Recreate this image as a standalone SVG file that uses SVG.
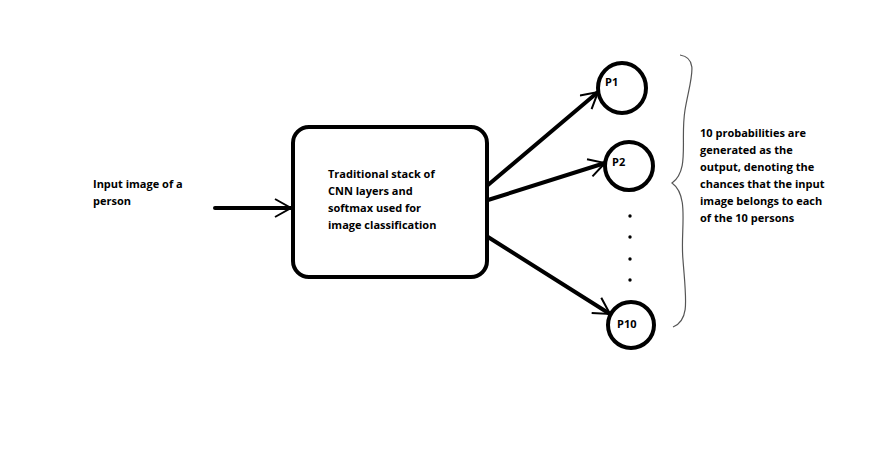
<svg xmlns="http://www.w3.org/2000/svg" width="875" height="475" viewBox="0 0 875 475">
<style>
text{font-family:"Open Sans","Liberation Sans",sans-serif;font-weight:bold;font-size:11px;fill:#000}
.l{stroke:#000;stroke-width:4;fill:none;stroke-linecap:round}
.c{stroke:#000;stroke-width:4;fill:#fff}
</style>
<defs>
<marker id="a" viewBox="0 0 20 20" refX="18" refY="10" markerWidth="20" markerHeight="20" markerUnits="userSpaceOnUse" orient="auto">
<path d="M2,1 L18,10 L2,19" fill="none" stroke="#000" stroke-width="2"/>
</marker>
</defs>
<rect width="875" height="475" fill="#fff"/>
<g id="input"><text x="93" y="188">Input image of a</text><text x="93" y="205">person</text></g>
<g id="cnn"><rect x="293" y="127" width="194" height="150" rx="16" class="l"/>
<text x="328" y="178">Traditional stack of</text><text x="328" y="195">CNN layers and</text><text x="328" y="212">softmax used for</text><text x="328" y="229">image classification</text></g>
<g id="p1"><ellipse cx="622" cy="88" rx="24" ry="25" class="c"/><text x="605" y="86">P1</text></g>
<g id="p2"><ellipse cx="629" cy="166" rx="24" ry="24" class="c"/><text x="612" y="166">P2</text></g>
<g id="p10"><ellipse cx="631" cy="325" rx="23" ry="23" class="c"/><text x="617" y="328">P10</text></g>
<g id="dots" fill="#000"><circle cx="630" cy="216" r="1.7"/><circle cx="630" cy="237" r="1.7"/><circle cx="630" cy="259" r="1.7"/><circle cx="630" cy="280" r="1.7"/></g>
<g id="connectors">
<line x1="215" y1="208" x2="291" y2="208" class="l" stroke-width="2.5" marker-end="url(#a)"/>
<line x1="488" y1="185" x2="598" y2="92" class="l" marker-end="url(#a)"/>
<line x1="488" y1="200" x2="605" y2="163" class="l" marker-end="url(#a)"/>
<line x1="488" y1="237" x2="610" y2="314" class="l" marker-end="url(#a)"/>
</g>
<g id="brace"><path d="M680,55 C700,58 690,80 685,110 C680,140 690,170 672,183 C690,196 680,230 683,260 C686,300 690,320 673,327" fill="none" stroke="#555" stroke-width="1.2"/></g>
<g id="note"><text x="700" y="137">10 probabilities are</text><text x="700" y="154">generated as the</text><text x="700" y="171">output, denoting the</text><text x="700" y="188">chances that the input</text><text x="700" y="205">image belongs to each</text><text x="700" y="222">of the 10 persons</text></g>
</svg>
